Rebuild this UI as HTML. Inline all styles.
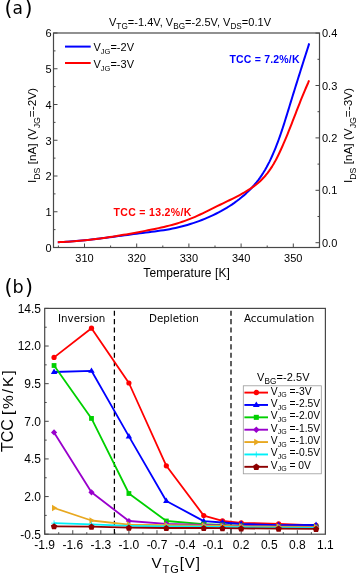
<!DOCTYPE html>
<html><head><meta charset="utf-8"><title>TCC figure</title>
<style>html,body{margin:0;padding:0;background:#fff;}svg{display:block;}text{font-family:"Liberation Sans", Arial, sans-serif;fill:#000;}</style></head><body>
<svg width="357" height="574" viewBox="0 0 357 574">
<rect x="0" y="0" width="357" height="574" fill="#fff"/>
<text x="4.6" y="15.4" style="font-family:'DejaVu Sans', Verdana, sans-serif;font-size:20.5px">(<tspan dy="-1.4" style="font-size:17px">a</tspan><tspan dx="1.6" dy="1.4">)</tspan></text>
<text x="109" y="25.5" textLength="162" lengthAdjust="spacing" style="font-size:11px">V<tspan dy="3.6" style="font-size:8.2px">TG</tspan><tspan dy="-3.6">=-1.4V, V</tspan><tspan dy="3.6" style="font-size:8.2px">BG</tspan><tspan dy="-3.6">=-2.5V, V</tspan><tspan dy="3.6" style="font-size:8.2px">DS</tspan><tspan dy="-3.6">=0.1V</tspan></text>
<text x="51.5" y="251.9" text-anchor="end" style="font-size:11px">0</text>
<text x="51.5" y="216.15" text-anchor="end" style="font-size:11px">1</text>
<text x="51.5" y="180.4" text-anchor="end" style="font-size:11px">2</text>
<text x="51.5" y="144.65" text-anchor="end" style="font-size:11px">3</text>
<text x="51.5" y="108.9" text-anchor="end" style="font-size:11px">4</text>
<text x="51.5" y="73.15" text-anchor="end" style="font-size:11px">5</text>
<text x="51.5" y="37.4" text-anchor="end" style="font-size:11px">6</text>
<text x="322" y="246.7" style="font-size:11px">0.0</text>
<text x="322" y="194.3" style="font-size:11px">0.1</text>
<text x="322" y="141.9" style="font-size:11px">0.2</text>
<text x="322" y="89.5" style="font-size:11px">0.3</text>
<text x="322" y="37.1" style="font-size:11px">0.4</text>
<text x="84.5" y="261.5" text-anchor="middle" style="font-size:11px">310</text>
<text x="136.7" y="261.5" text-anchor="middle" style="font-size:11px">320</text>
<text x="188.9" y="261.5" text-anchor="middle" style="font-size:11px">330</text>
<text x="241.1" y="261.5" text-anchor="middle" style="font-size:11px">340</text>
<text x="293.3" y="261.5" text-anchor="middle" style="font-size:11px">350</text>
<path d="M53.5,247.5h4 M53.5,211.75h4 M53.5,176h4 M53.5,140.25h4 M53.5,104.5h4 M53.5,68.75h4 M53.5,33h4 M53.5,229.62h2 M53.5,193.88h2 M53.5,158.12h2 M53.5,122.38h2 M53.5,86.62h2 M53.5,50.88h2 M319.5,242.7h-4 M319.5,190.3h-4 M319.5,137.9h-4 M319.5,85.5h-4 M319.5,33.1h-4 M319.5,216.5h-2 M319.5,164.1h-2 M319.5,111.7h-2 M319.5,59.3h-2 M84.5,247.5v-4 M136.7,247.5v-4 M188.9,247.5v-4 M241.1,247.5v-4 M293.3,247.5v-4 M58.4,247.5v-2 M110.6,247.5v-2 M162.8,247.5v-2 M215,247.5v-2 M267.2,247.5v-2 M319.4,247.5v-2" stroke="#484848" stroke-width="1" fill="none"/>
<text x="186.6" y="277.4" text-anchor="middle" textLength="86.5" lengthAdjust="spacing" style="font-size:12px">Temperature [K]</text>
<text transform="translate(36,135.5) rotate(-90)" text-anchor="middle" textLength="95" lengthAdjust="spacing" style="font-size:11.8px">I<tspan dy="3.8" style="font-size:8.8px">DS</tspan><tspan dy="-3.8"> [nA] (V</tspan><tspan dy="3.8" style="font-size:8.8px">JG</tspan><tspan dy="-3.8">=-2V)</tspan></text>
<text transform="translate(352,135.5) rotate(-90)" text-anchor="middle" textLength="95" lengthAdjust="spacing" style="font-size:11.8px">I<tspan dy="3.8" style="font-size:8.8px">DS</tspan><tspan dy="-3.8"> [nA] (V</tspan><tspan dy="3.8" style="font-size:8.8px">JG</tspan><tspan dy="-3.8">=-3V)</tspan></text>
<path d="M57.8,242.2 L60.86,242.1 L63.88,241.93 L66.9,241.74 L69.92,241.53 L72.95,241.3 L75.98,241.05 L79.01,240.78 L82.04,240.49 L85.08,240.19 L88.11,239.87 L91.15,239.54 L94.19,239.19 L97.23,238.83 L100.26,238.47 L103.3,238.09 L106.34,237.71 L109.38,237.32 L112.41,236.92 L115.45,236.52 L118.48,236.12 L121.51,235.71 L124.54,235.31 L127.57,234.9 L130.6,234.5 L133.62,234.09 L136.64,233.69 L139.66,233.3 L142.68,232.91 L145.69,232.53 L148.69,232.16 L151.7,231.78 L154.69,231.4 L157.69,231 L160.68,230.59 L163.66,230.14 L166.64,229.66 L169.61,229.15 L172.58,228.58 L175.54,227.96 L178.49,227.28 L181.44,226.55 L184.38,225.77 L187.31,224.93 L190.24,224.05 L193.16,223.11 L196.07,222.12 L198.96,221.08 L201.84,220 L204.7,218.86 L207.54,217.66 L210.36,216.42 L213.16,215.12 L215.93,213.77 L218.66,212.37 L221.37,210.92 L224.04,209.41 L226.67,207.85 L229.26,206.23 L231.82,204.56 L234.32,202.84 L236.78,201.06 L239.19,199.22 L241.55,197.33 L243.85,195.38 L246.1,193.38 L248.29,191.31 L250.42,189.19 L252.49,187.01 L254.49,184.76 L256.42,182.45 L258.28,180.08 L260.08,177.64 L261.8,175.14 L263.44,172.58 L265.02,169.96 L266.53,167.29 L267.98,164.58 L269.38,161.83 L270.71,159.06 L272,156.25 L273.24,153.44 L274.44,150.61 L275.59,147.77 L276.71,144.93 L277.79,142.08 L278.84,139.22 L279.87,136.35 L280.86,133.48 L281.83,130.61 L282.79,127.72 L283.72,124.84 L284.64,121.95 L285.55,119.05 L286.45,116.15 L287.34,113.25 L288.23,110.34 L289.12,107.43 L290.01,104.52 L290.9,101.6 L291.8,98.69 L292.7,95.77 L293.6,92.85 L294.51,89.93 L295.42,87.01 L296.33,84.1 L297.24,81.18 L298.16,78.26 L299.08,75.34 L300,72.43 L300.92,69.51 L301.84,66.6 L302.76,63.69 L303.69,60.79 L304.61,57.88 L305.54,54.99 L306.46,52.09 L307.39,49.2 L308.32,46.32 L309.2,43.4" stroke="#0000ff" stroke-width="2" fill="none" stroke-linejoin="round"/>
<path d="M57.8,242.2 L60.59,242.09 L63.3,241.97 L66.01,241.83 L68.73,241.66 L71.46,241.48 L74.18,241.28 L76.91,241.05 L79.64,240.81 L82.38,240.55 L85.12,240.27 L87.85,239.98 L90.59,239.67 L93.34,239.34 L96.08,239 L98.82,238.65 L101.56,238.27 L104.3,237.89 L107.05,237.49 L109.79,237.08 L112.53,236.66 L115.26,236.23 L118,235.78 L120.73,235.33 L123.46,234.86 L126.19,234.39 L128.92,233.91 L131.64,233.42 L134.36,232.92 L137.07,232.42 L139.78,231.91 L142.49,231.39 L145.19,230.87 L147.88,230.34 L150.57,229.81 L153.26,229.26 L155.93,228.7 L158.6,228.13 L161.27,227.53 L163.92,226.92 L166.57,226.28 L169.21,225.61 L171.84,224.91 L174.47,224.18 L177.08,223.42 L179.69,222.61 L182.28,221.76 L184.87,220.87 L187.44,219.93 L190.01,218.93 L192.56,217.89 L195.11,216.8 L197.64,215.67 L200.17,214.51 L202.68,213.31 L205.19,212.1 L207.69,210.88 L210.18,209.64 L212.67,208.41 L215.15,207.18 L217.62,205.97 L220.09,204.77 L222.55,203.58 L225.01,202.39 L227.46,201.21 L229.91,200.01 L232.36,198.8 L234.81,197.58 L237.25,196.32 L239.69,195.03 L242.11,193.71 L244.51,192.35 L246.89,190.93 L249.22,189.47 L251.52,187.94 L253.76,186.35 L255.95,184.7 L258.07,182.97 L260.11,181.16 L262.07,179.27 L263.95,177.29 L265.75,175.23 L267.47,173.1 L269.11,170.91 L270.67,168.66 L272.17,166.35 L273.6,164 L274.96,161.61 L276.26,159.18 L277.51,156.72 L278.73,154.24 L279.91,151.75 L281.06,149.25 L282.2,146.73 L283.31,144.21 L284.4,141.68 L285.48,139.14 L286.53,136.6 L287.58,134.05 L288.61,131.49 L289.63,128.93 L290.64,126.37 L291.64,123.8 L292.64,121.23 L293.63,118.66 L294.62,116.09 L295.61,113.52 L296.61,110.95 L297.6,108.39 L298.6,105.82 L299.61,103.26 L300.62,100.7 L301.64,98.15 L302.68,95.6 L303.73,93.06 L304.79,90.52 L305.87,88 L306.97,85.48 L308.09,82.97 L309.1,80.4" stroke="#ff0000" stroke-width="2" fill="none" stroke-linejoin="round"/>
<rect x="53.5" y="33" width="266" height="214.5" fill="none" stroke="#484848" stroke-width="1.2"/>
<path d="M65,46.6H90.7" stroke="#0000ff" stroke-width="2"/>
<path d="M65,63H90.7" stroke="#ff0000" stroke-width="2"/>
<text x="93.5" y="51.2" style="font-size:11px">V<tspan dy="3" style="font-size:7.5px">JG</tspan><tspan dy="-3">=-2V</tspan></text>
<text x="93.5" y="67.5" style="font-size:11px">V<tspan dy="3" style="font-size:7.5px">JG</tspan><tspan dy="-3">=-3V</tspan></text>
<text x="229.5" y="63.3" textLength="70" lengthAdjust="spacing" style="font-size:10.5px;font-weight:bold;fill:#0000ff">TCC = 7.2%/K</text>
<text x="113.5" y="216.2" textLength="77.8" lengthAdjust="spacing" style="font-size:10.5px;font-weight:bold;fill:#ff0000">TCC = 13.2%/K</text>
<text x="4.6" y="293.9" style="font-family:'DejaVu Sans', Verdana, sans-serif;font-size:20.5px">(<tspan dy="-1.3" style="font-size:17.6px">b</tspan><tspan dx="1.3" dy="1.3">)</tspan></text>
<text x="41" y="538.5" text-anchor="end" style="font-size:12px">-0.5</text>
<text x="41" y="500.87" text-anchor="end" style="font-size:12px">2.0</text>
<text x="41" y="463.23" text-anchor="end" style="font-size:12px">4.5</text>
<text x="41" y="425.6" text-anchor="end" style="font-size:12px">7.0</text>
<text x="41" y="387.97" text-anchor="end" style="font-size:12px">9.5</text>
<text x="41" y="350.33" text-anchor="end" style="font-size:12px">12.0</text>
<text x="41" y="312.7" text-anchor="end" style="font-size:12px">14.5</text>
<text x="44.7" y="548.5" text-anchor="middle" style="font-size:12px">-1.9</text>
<text x="72.77" y="548.5" text-anchor="middle" style="font-size:12px">-1.6</text>
<text x="100.84" y="548.5" text-anchor="middle" style="font-size:12px">-1.3</text>
<text x="128.91" y="548.5" text-anchor="middle" style="font-size:12px">-1.0</text>
<text x="156.98" y="548.5" text-anchor="middle" style="font-size:12px">-0.7</text>
<text x="185.05" y="548.5" text-anchor="middle" style="font-size:12px">-0.4</text>
<text x="213.12" y="548.5" text-anchor="middle" style="font-size:12px">-0.1</text>
<text x="241.19" y="548.5" text-anchor="middle" style="font-size:12px">0.2</text>
<text x="269.26" y="548.5" text-anchor="middle" style="font-size:12px">0.5</text>
<text x="297.33" y="548.5" text-anchor="middle" style="font-size:12px">0.8</text>
<text x="325.4" y="548.5" text-anchor="middle" style="font-size:12px">1.1</text>
<path d="M44.7,534.2h4 M44.7,496.57h4 M44.7,458.93h4 M44.7,421.3h4 M44.7,383.67h4 M44.7,346.03h4 M44.7,308.4h4 M44.7,515.38h2 M44.7,477.75h2 M44.7,440.12h2 M44.7,402.48h2 M44.7,364.85h2 M44.7,327.22h2 M44.7,534.2v-4 M72.77,534.2v-4 M100.84,534.2v-4 M128.91,534.2v-4 M156.98,534.2v-4 M185.05,534.2v-4 M213.12,534.2v-4 M241.19,534.2v-4 M269.26,534.2v-4 M297.33,534.2v-4 M325.4,534.2v-4 M58.73,534.2v-2 M86.81,534.2v-2 M114.88,534.2v-2 M142.94,534.2v-2 M171.01,534.2v-2 M199.08,534.2v-2 M227.15,534.2v-2 M255.22,534.2v-2 M283.3,534.2v-2 M311.36,534.2v-2" stroke="#484848" stroke-width="1" fill="none"/>
<path d="M114.4,310.7V534M231,310.7V534" stroke="#000" stroke-width="1.25" stroke-dasharray="5.1,3.3" fill="none"/>
<text x="58" y="322" style="font-family:'DejaVu Sans', Verdana, sans-serif;font-size:10.3px">Inversion</text>
<text x="149" y="322" style="font-family:'DejaVu Sans', Verdana, sans-serif;font-size:10.3px">Depletion</text>
<text x="244" y="322" style="font-family:'DejaVu Sans', Verdana, sans-serif;font-size:10.3px">Accumulation</text>
<text x="151.5" y="568" textLength="48.5" lengthAdjust="spacing" style="font-size:15px">V<tspan dy="5" style="font-size:11px">TG</tspan><tspan dy="-5">[V]</tspan></text>
<text transform="translate(13,410.5) rotate(-90)" x="-41.6" style="font-size:16px">TCC<tspan x="-4.6" style="font-size:15.5px;letter-spacing:1.9px">[%/K]</tspan></text>
<polyline points="54.06,357.4 91.48,328.2 128.91,383 166.34,465.8 203.76,515.6 222.48,520.9 241.19,522.8 278.62,523.9 316.04,525.4" stroke="#ff0000" stroke-width="1.8" fill="none" stroke-linejoin="round"/>
<circle cx="54.06" cy="357.4" r="2.6" fill="#ff0000"/>
<circle cx="91.48" cy="328.2" r="2.6" fill="#ff0000"/>
<circle cx="128.91" cy="383" r="2.6" fill="#ff0000"/>
<circle cx="166.34" cy="465.8" r="2.6" fill="#ff0000"/>
<circle cx="203.76" cy="515.6" r="2.6" fill="#ff0000"/>
<circle cx="222.48" cy="520.9" r="2.6" fill="#ff0000"/>
<circle cx="241.19" cy="522.8" r="2.6" fill="#ff0000"/>
<circle cx="278.62" cy="523.9" r="2.6" fill="#ff0000"/>
<circle cx="316.04" cy="525.4" r="2.6" fill="#ff0000"/>
<polyline points="54.06,372 91.48,370.8 128.91,436.4 166.34,501 203.76,521.1 222.48,522.5 241.19,524 278.62,525.2 316.04,525" stroke="#0000ff" stroke-width="1.8" fill="none" stroke-linejoin="round"/>
<path d="M54.06,368.6L57.29,374.04L50.83,374.04Z" fill="#0000ff"/>
<path d="M91.48,367.4L94.71,372.84L88.25,372.84Z" fill="#0000ff"/>
<path d="M128.91,433L132.14,438.44L125.68,438.44Z" fill="#0000ff"/>
<path d="M166.34,497.6L169.57,503.04L163.11,503.04Z" fill="#0000ff"/>
<path d="M203.76,517.7L206.99,523.14L200.53,523.14Z" fill="#0000ff"/>
<path d="M222.48,519.1L225.71,524.54L219.25,524.54Z" fill="#0000ff"/>
<path d="M241.19,520.6L244.42,526.04L237.96,526.04Z" fill="#0000ff"/>
<path d="M278.62,521.8L281.85,527.24L275.39,527.24Z" fill="#0000ff"/>
<path d="M316.04,521.6L319.27,527.04L312.81,527.04Z" fill="#0000ff"/>
<polyline points="54.06,365.5 91.48,418.4 128.91,493.5 166.34,521 203.76,524.2 222.48,525 241.19,525.8 278.62,526.6 316.04,526.8" stroke="#00d000" stroke-width="1.8" fill="none" stroke-linejoin="round"/>
<rect x="51.66" y="363.1" width="4.8" height="4.8" fill="#00d000"/>
<rect x="89.08" y="416" width="4.8" height="4.8" fill="#00d000"/>
<rect x="126.51" y="491.1" width="4.8" height="4.8" fill="#00d000"/>
<rect x="163.94" y="518.6" width="4.8" height="4.8" fill="#00d000"/>
<rect x="201.36" y="521.8" width="4.8" height="4.8" fill="#00d000"/>
<rect x="220.08" y="522.6" width="4.8" height="4.8" fill="#00d000"/>
<rect x="238.79" y="523.4" width="4.8" height="4.8" fill="#00d000"/>
<rect x="276.22" y="524.2" width="4.8" height="4.8" fill="#00d000"/>
<rect x="313.64" y="524.4" width="4.8" height="4.8" fill="#00d000"/>
<polyline points="54.06,432.4 91.48,492.3 128.91,521 166.34,523.9 203.76,525 222.48,525.5 241.19,526 278.62,526.4 316.04,526.8" stroke="#9900cc" stroke-width="1.8" fill="none" stroke-linejoin="round"/>
<path d="M54.06,429.3L57.16,432.4L54.06,435.5L50.96,432.4Z" fill="#9900cc"/>
<path d="M91.48,489.2L94.58,492.3L91.48,495.4L88.38,492.3Z" fill="#9900cc"/>
<path d="M128.91,517.9L132.01,521L128.91,524.1L125.81,521Z" fill="#9900cc"/>
<path d="M166.34,520.8L169.44,523.9L166.34,527L163.24,523.9Z" fill="#9900cc"/>
<path d="M203.76,521.9L206.86,525L203.76,528.1L200.66,525Z" fill="#9900cc"/>
<path d="M222.48,522.4L225.58,525.5L222.48,528.6L219.38,525.5Z" fill="#9900cc"/>
<path d="M241.19,522.9L244.29,526L241.19,529.1L238.09,526Z" fill="#9900cc"/>
<path d="M278.62,523.3L281.72,526.4L278.62,529.5L275.52,526.4Z" fill="#9900cc"/>
<path d="M316.04,523.7L319.14,526.8L316.04,529.9L312.94,526.8Z" fill="#9900cc"/>
<polyline points="54.06,508 91.48,520.5 128.91,524.6 166.34,525.2 203.76,525.6 222.48,526 241.19,526.4 278.62,526.8 316.04,527.2" stroke="#e8a820" stroke-width="1.8" fill="none" stroke-linejoin="round"/>
<path d="M57.46,508L52.02,504.77L52.02,511.23Z" fill="#e8a820"/>
<path d="M94.88,520.5L89.44,517.27L89.44,523.73Z" fill="#e8a820"/>
<path d="M132.31,524.6L126.87,521.37L126.87,527.83Z" fill="#e8a820"/>
<path d="M169.74,525.2L164.3,521.97L164.3,528.43Z" fill="#e8a820"/>
<path d="M207.16,525.6L201.72,522.37L201.72,528.83Z" fill="#e8a820"/>
<path d="M225.88,526L220.44,522.77L220.44,529.23Z" fill="#e8a820"/>
<path d="M244.59,526.4L239.15,523.17L239.15,529.63Z" fill="#e8a820"/>
<path d="M282.02,526.8L276.58,523.57L276.58,530.03Z" fill="#e8a820"/>
<path d="M319.44,527.2L314,523.97L314,530.43Z" fill="#e8a820"/>
<polyline points="54.06,523.2 91.48,524.4 128.91,525.8 166.34,526.4 203.76,526.6 222.48,526.8 241.19,527.2 278.62,527.6 316.04,527.9" stroke="#00f0f8" stroke-width="1.8" fill="none" stroke-linejoin="round"/>
<path d="M51.26,523.2h5.6M54.06,520.4v5.6" stroke="#00f0f8" stroke-width="0.8" fill="none"/>
<path d="M88.68,524.4h5.6M91.48,521.6v5.6" stroke="#00f0f8" stroke-width="0.8" fill="none"/>
<path d="M126.11,525.8h5.6M128.91,523v5.6" stroke="#00f0f8" stroke-width="0.8" fill="none"/>
<path d="M163.54,526.4h5.6M166.34,523.6v5.6" stroke="#00f0f8" stroke-width="0.8" fill="none"/>
<path d="M200.96,526.6h5.6M203.76,523.8v5.6" stroke="#00f0f8" stroke-width="0.8" fill="none"/>
<path d="M219.68,526.8h5.6M222.48,524v5.6" stroke="#00f0f8" stroke-width="0.8" fill="none"/>
<path d="M238.39,527.2h5.6M241.19,524.4v5.6" stroke="#00f0f8" stroke-width="0.8" fill="none"/>
<path d="M275.82,527.6h5.6M278.62,524.8v5.6" stroke="#00f0f8" stroke-width="0.8" fill="none"/>
<path d="M313.24,527.9h5.6M316.04,525.1v5.6" stroke="#00f0f8" stroke-width="0.8" fill="none"/>
<polyline points="54.06,526.3 91.48,526.7 128.91,527.7 166.34,528 203.76,528 222.48,528.2 241.19,528.4 278.62,528.6 316.04,528.9" stroke="#8c0000" stroke-width="1.8" fill="none" stroke-linejoin="round"/>
<path d="M54.06,523.2L57.29,525.55L56.06,529.35L52.06,529.35L50.82,525.55Z" fill="#8c0000"/>
<path d="M91.48,523.6L94.72,525.95L93.48,529.75L89.48,529.75L88.25,525.95Z" fill="#8c0000"/>
<path d="M128.91,524.6L132.14,526.95L130.91,530.75L126.91,530.75L125.68,526.95Z" fill="#8c0000"/>
<path d="M166.34,524.9L169.57,527.25L168.34,531.05L164.34,531.05L163.1,527.25Z" fill="#8c0000"/>
<path d="M203.76,524.9L207,527.25L205.76,531.05L201.76,531.05L200.53,527.25Z" fill="#8c0000"/>
<path d="M222.48,525.1L225.71,527.45L224.48,531.25L220.48,531.25L219.24,527.45Z" fill="#8c0000"/>
<path d="M241.19,525.3L244.42,527.65L243.19,531.45L239.19,531.45L237.96,527.65Z" fill="#8c0000"/>
<path d="M278.62,525.5L281.85,527.85L280.62,531.65L276.62,531.65L275.38,527.85Z" fill="#8c0000"/>
<path d="M316.04,525.8L319.28,528.15L318.04,531.95L314.04,531.95L312.81,528.15Z" fill="#8c0000"/>
<rect x="44.7" y="308.4" width="280.7" height="225.8" fill="none" stroke="#484848" stroke-width="1.2"/>
<text x="257" y="380.6" textLength="52.5" lengthAdjust="spacing" style="font-size:11px">V<tspan dy="3" style="font-size:8.2px">BG</tspan><tspan dy="-3">=-2.5V</tspan></text>
<rect x="243.3" y="385.8" width="78" height="88" fill="#fff" stroke="#999" stroke-width="0.8"/>
<path d="M244.4,392.6H268" stroke="#ff0000" stroke-width="1.9"/>
<circle cx="256.3" cy="392.6" r="2.73" fill="#ff0000"/>
<text x="270.8" y="394.6" style="font-size:10.3px">V<tspan dy="2.6" style="font-size:7px">JG</tspan><tspan dy="-2.6"> =-3V</tspan></text>
<path d="M244.4,404.97H268" stroke="#0000ff" stroke-width="1.9"/>
<path d="M256.3,401.4L259.69,407.11L252.91,407.11Z" fill="#0000ff"/>
<text x="270.8" y="406.97" style="font-size:10.3px">V<tspan dy="2.6" style="font-size:7px">JG</tspan><tspan dy="-2.6"> =-2.5V</tspan></text>
<path d="M244.4,417.34H268" stroke="#00d000" stroke-width="1.9"/>
<rect x="253.78" y="414.82" width="5.04" height="5.04" fill="#00d000"/>
<text x="270.8" y="419.34" style="font-size:10.3px">V<tspan dy="2.6" style="font-size:7px">JG</tspan><tspan dy="-2.6"> =-2.0V</tspan></text>
<path d="M244.4,429.71H268" stroke="#9900cc" stroke-width="1.9"/>
<path d="M256.3,426.46L259.56,429.71L256.3,432.97L253.05,429.71Z" fill="#9900cc"/>
<text x="270.8" y="431.71" style="font-size:10.3px">V<tspan dy="2.6" style="font-size:7px">JG</tspan><tspan dy="-2.6"> =-1.5V</tspan></text>
<path d="M244.4,442.08H268" stroke="#e8a820" stroke-width="1.9"/>
<path d="M259.87,442.08L254.16,438.69L254.16,445.47Z" fill="#e8a820"/>
<text x="270.8" y="444.08" style="font-size:10.3px">V<tspan dy="2.6" style="font-size:7px">JG</tspan><tspan dy="-2.6"> =-1.0V</tspan></text>
<path d="M244.4,454.45H268" stroke="#00f0f8" stroke-width="1.9"/>
<path d="M253.36,454.45h5.88M256.3,451.51v5.88" stroke="#00f0f8" stroke-width="0.8" fill="none"/>
<text x="270.8" y="456.45" style="font-size:10.3px">V<tspan dy="2.6" style="font-size:7px">JG</tspan><tspan dy="-2.6"> =-0.5V</tspan></text>
<path d="M244.4,466.82H268" stroke="#8c0000" stroke-width="1.9"/>
<path d="M256.3,463.55L259.7,466.02L258.4,470.01L254.2,470.01L252.9,466.02Z" fill="#8c0000"/>
<text x="270.8" y="468.82" style="font-size:10.3px">V<tspan dy="2.6" style="font-size:7px">JG</tspan><tspan dy="-2.6"> = 0V</tspan></text>
</svg></body></html>
